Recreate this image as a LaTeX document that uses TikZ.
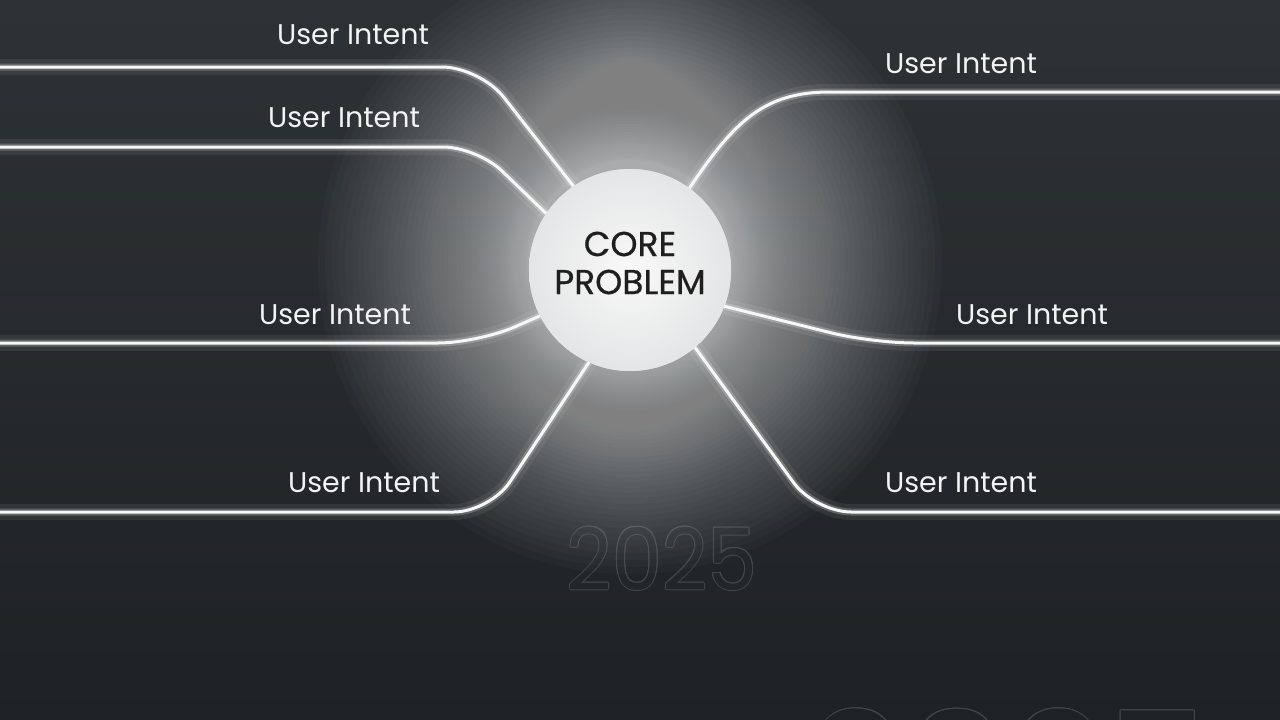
\documentclass[tikz,border=0pt]{standalone}
\usepackage{fontspec}
\setmainfont{Poppins}
\newfontfamily\corefont{Poppins}[FakeBold=0.6]
\definecolor{bgtop}{HTML}{2D3236}
\definecolor{bgbot}{HTML}{1E2225}
\definecolor{linec}{HTML}{F6F8F8}
\definecolor{labc}{HTML}{F2F3F3}
\definecolor{outl}{HTML}{41474C}
\definecolor{yearbg}{HTML}{222629}
\definecolor{corein}{HTML}{F9F9F9}
\definecolor{coreout}{HTML}{E4E5E6}
\tikzset{
  lnk/.style={draw=linec, line width=3, line cap=round,
    preaction={draw=white, draw opacity=0.07, line width=16},
    preaction={draw=white, draw opacity=0.22, line width=7}},
  lab/.style={text=labc, font=\fontsize{28.5}{32}\selectfont, anchor=base, inner sep=0},
  yr/.style={font=\fontsize{86}{90}\selectfont, anchor=base, inner sep=0, xscale=0.92},
  yrbig/.style={font=\fontsize{168}{170}\selectfont, anchor=base, inner sep=0},
  corestyle/.style={circle, minimum size=202, inner sep=0, inner color=corein, outer color=coreout},
  coretxt/.style={font=\corefont\fontsize{34.5}{38}\selectfont, text=black!88, align=center, inner sep=0},
}
\begin{document}
\begin{tikzpicture}[x=1pt,y=-1pt]
\useasboundingbox (0,0) rectangle (1280,720);
\clip (0,0) rectangle (1280,720);
\shade[top color=bgtop, bottom color=bgbot] (0,0) rectangle (1280,720);
% outlined years (under the glow)
\foreach \dx/\dy [count=\k] in {1/0,-1/0,0/1,0/-1,0.7/0.7,-0.7/0.7,0.7/-0.7,-0.7/-0.7}{
  \node[yr, text=outl] (ya\k) at (662+\dx,590+\dy) {2025};
  \node[yrbig, text=outl] (yb\k) at (1010+\dx,832+\dy) {2025};
}
\node[yr, text=yearbg] (year) at (662,590) {2025};
\node[yrbig, text=bgbot] (yearbig) at (1010,832) {2025};
% glow
\foreach \i in {1,...,60}{
  \fill[white, fill opacity=0.02] (630,262) circle ({102+210*(\i/60)^2});
}
\foreach \i in {1,...,24}{
  \fill[white, fill opacity=0.009] (630,220) ellipse ({70+70*(\i/24)^2} and {160+180*(\i/24)^2});
}
% centre node
\node[corestyle] (core) at (630,270) {};
% free ends
\coordinate (L1) at (-10,67);
\coordinate (L2) at (-10,147);
\coordinate (L3) at (-10,343);
\coordinate (L4) at (-10,512);
\coordinate (R1) at (1290,92);
\coordinate (R2) at (1290,343);
\coordinate (R3) at (1290,512);
\coordinate (c1) at (480,67);
\coordinate (c2) at (477,147);
\coordinate (c3) at (478,343);
\coordinate (c4) at (490,512);
\coordinate (c6) at (872,343);
\coordinate (c7) at (815,512);
% connectors
\draw[lnk, rounded corners=38] (core.124) -- (c1) -- (L1);
\draw[lnk, rounded corners=34] (core.146) -- (c2) -- (L2);
\draw[lnk, rounded corners=40] (core.207) -- (c3) -- (L3);
\draw[lnk, rounded corners=36] (core.246) -- (c4) -- (L4);
\draw[lnk] (core.54) .. controls (735,120) and (765,92) .. (830,92) -- (R1);
\draw[lnk, rounded corners=42] (core.339) -- (c6) -- (R2);
\draw[lnk, rounded corners=36] (core.310) -- (c7) -- (R3);
\node[corestyle] (core2) at (core.center) {};
\node[coretxt] (coretext) at (630,263) {CORE\\PROBLEM};
% labels
\node[lab] (t1) at (353,44) {User Intent};
\node[lab] (t2) at (344,127) {User Intent};
\node[lab] (t3) at (335,324) {User Intent};
\node[lab] (t4) at (364,492) {User Intent};
\node[lab] (t5) at (961,73) {User Intent};
\node[lab] (t6) at (1032,324) {User Intent};
\node[lab] (t7) at (961,492) {User Intent};
\end{tikzpicture}
\end{document}
